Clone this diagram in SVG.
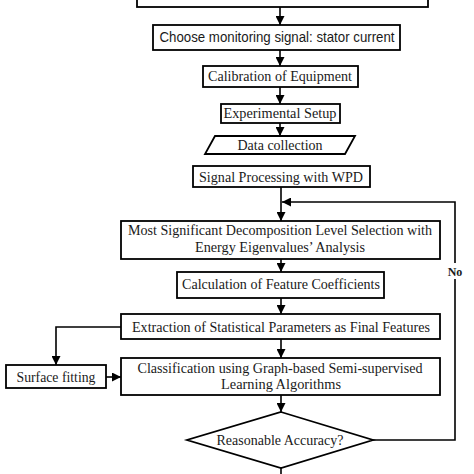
<svg xmlns="http://www.w3.org/2000/svg" width="474" height="474" viewBox="0 0 474 474">
<defs>
<marker id="arr" viewBox="0 0 10 10" refX="10" refY="5" markerUnits="userSpaceOnUse" markerWidth="9" markerHeight="9" orient="auto">
<path d="M0,0 L10,5 L0,10 z" fill="#000"/>
</marker>
</defs>
<style>
.box{fill:#fff;stroke:#000;stroke-width:1.8}
.ln{fill:none;stroke:#000;stroke-width:1.6}
.a{marker-end:url(#arr)}
.t{font-family:'Liberation Serif','DejaVu Serif',serif;font-size:14px;fill:#1a1a1a;text-anchor:middle}
.s{font-family:'Liberation Sans','DejaVu Sans',sans-serif;font-size:14px;fill:#1a1a1a;text-anchor:middle}
.no{font-family:'Liberation Serif','DejaVu Serif',serif;font-size:12px;font-weight:bold;fill:#1a1a1a;text-anchor:middle}
</style>
<rect width="474" height="474" fill="#fff"/>
<g id="n0"><rect class="box" x="137" y="-20" width="291" height="27"/></g>
<g id="n1"><rect class="box" x="153" y="25" width="247" height="25"/><text class="s" x="277" y="42" textLength="235" lengthAdjust="spacingAndGlyphs">Choose monitoring signal: stator current</text></g>
<g id="n2"><rect class="box" x="203" y="66" width="155" height="21"/><text class="t" x="280" y="81" textLength="144" lengthAdjust="spacingAndGlyphs">Calibration of Equipment</text></g>
<g id="n3"><rect class="box" x="221" y="104" width="119" height="19"/><text class="t" x="280" y="118" textLength="113" lengthAdjust="spacingAndGlyphs">Experimental Setup</text></g>
<g id="n4"><polygon class="box" points="215,136 355,136 345,154 205,154"/><text class="t" x="280" y="150" textLength="85" lengthAdjust="spacingAndGlyphs">Data collection</text></g>
<g id="n5"><rect class="box" x="193" y="166" width="177" height="21"/><text class="t" x="281" y="182" textLength="164" lengthAdjust="spacingAndGlyphs">Signal Processing with WPD</text></g>
<g id="n6"><rect class="box" x="121" y="221" width="319" height="38"/><text class="t" x="280" y="235" textLength="304" lengthAdjust="spacingAndGlyphs">Most Significant Decomposition Level Selection with</text><text class="t" x="280" y="252" textLength="170" lengthAdjust="spacingAndGlyphs">Energy Eigenvalues’ Analysis</text></g>
<g id="n7"><rect class="box" x="177" y="272" width="207" height="26"/><text class="t" x="281" y="289" textLength="198" lengthAdjust="spacingAndGlyphs">Calculation of Feature Coefficients</text></g>
<g id="n8"><rect class="box" x="121" y="314" width="319" height="25"/><text class="t" x="281" y="332" textLength="298" lengthAdjust="spacingAndGlyphs">Extraction of Statistical Parameters as Final Features</text></g>
<g id="n9"><rect class="box" x="121" y="358" width="319" height="37"/><text class="t" x="280" y="373" textLength="285" lengthAdjust="spacingAndGlyphs">Classification using Graph-based Semi-supervised</text><text class="t" x="281" y="389" textLength="120" lengthAdjust="spacingAndGlyphs">Learning Algorithms</text></g>
<g id="n10"><rect class="box" x="6" y="365" width="100" height="23"/><text class="t" x="56" y="382" textLength="79" lengthAdjust="spacingAndGlyphs">Surface fitting</text></g>
<g id="n11"><polygon class="box" points="281,412 373,440 281,468 187,440"/><text class="t" x="280" y="445" textLength="127" lengthAdjust="spacingAndGlyphs">Reasonable Accuracy?</text></g>
<g id="connectors">
<line class="ln a" x1="280" y1="7" x2="280" y2="25"/>
<line class="ln a" x1="280" y1="50" x2="280" y2="66"/>
<line class="ln a" x1="280" y1="87" x2="280" y2="104"/>
<line class="ln a" x1="280" y1="123" x2="280" y2="136"/>
<line class="ln a" x1="281" y1="187" x2="281" y2="221"/>
<line class="ln a" x1="281" y1="259" x2="281" y2="272"/>
<line class="ln a" x1="281" y1="298" x2="281" y2="314"/>
<line class="ln a" x1="281" y1="339" x2="281" y2="358"/>
<line class="ln a" x1="281" y1="395" x2="281" y2="412"/>
<polyline class="ln a" points="121,327 56,327 56,365"/>
<line class="ln a" x1="106" y1="377" x2="121" y2="377"/>
<line class="ln" x1="281" y1="468" x2="281" y2="476"/>
<polyline class="ln" points="373,440 455,440 455,279"/>
<polyline class="ln a" points="455,263 455,202 282,202"/>
<text class="no" x="455" y="276">No</text>
</g>
</svg>
